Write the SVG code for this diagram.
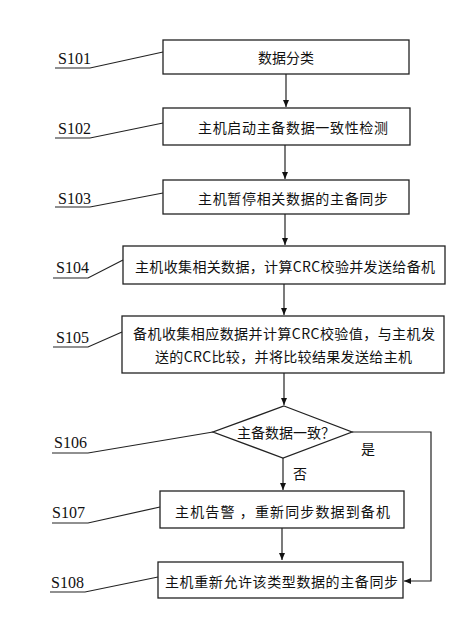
<svg xmlns="http://www.w3.org/2000/svg" width="474" height="624" viewBox="0 0 474 624">
<style>
.box{fill:#fff;stroke:#222;stroke-width:1.3}
.t{font-family:"Noto Sans CJK SC","Noto Sans",sans-serif;font-size:14px;fill:#111;dominant-baseline:central}
.lab{font-family:"Liberation Serif",serif;font-size:16px;fill:#111}
.ln{fill:none;stroke:#222;stroke-width:1.2}
</style>
<defs>
<marker id="ah" markerWidth="8" markerHeight="8" refX="7" refY="4" orient="auto" markerUnits="userSpaceOnUse">
<path d="M0,1 L7,4 L0,7 Z" fill="#111"/>
</marker>
</defs>
<rect width="474" height="624" fill="#fff"/>
<g id="connectors">
<line class="ln" x1="286" y1="74" x2="286" y2="107" marker-end="url(#ah)"/>
<line class="ln" x1="285" y1="145" x2="285" y2="179" marker-end="url(#ah)"/>
<line class="ln" x1="285" y1="214" x2="285" y2="245" marker-end="url(#ah)"/>
<line class="ln" x1="284" y1="284" x2="284" y2="315" marker-end="url(#ah)"/>
<line class="ln" x1="284" y1="373" x2="284" y2="405" marker-end="url(#ah)"/>
<line class="ln" x1="283" y1="458" x2="283" y2="490" marker-end="url(#ah)"/>
<line class="ln" x1="282" y1="528" x2="282" y2="560" marker-end="url(#ah)"/>
<polyline class="ln" points="352,432 431,432 431,581 404,581" marker-end="url(#ah)"/>
<text class="t" x="368" y="448" text-anchor="middle">是</text>
<text class="t" x="300" y="473" text-anchor="middle">否</text>
</g>
<g id="S101">
<rect class="box" x="163" y="40" width="246" height="34"/>
<text class="t" x="286" y="57" text-anchor="middle">数据分类</text>
<text class="lab" x="58" y="64">S101</text>
<polyline class="ln" points="55,68 90,68 163,52"/>
</g>
<g id="S102">
<rect class="box" x="163" y="108" width="247" height="37"/>
<text class="t" x="198" y="127" textLength="190" lengthAdjust="spacing">主机启动主备数据一致性检测</text>
<text class="lab" x="58" y="134">S102</text>
<polyline class="ln" points="55,138 90,138 163,123"/>
</g>
<g id="S103">
<rect class="box" x="163" y="180" width="246" height="34"/>
<text class="t" x="198" y="198" textLength="190" lengthAdjust="spacing">主机暂停相关数据的主备同步</text>
<text class="lab" x="58" y="204">S103</text>
<polyline class="ln" points="55,207 90,207 163,193"/>
</g>
<g id="S104">
<rect class="box" x="123" y="246" width="322" height="38"/>
<text class="t" x="135" y="266" textLength="300" lengthAdjust="spacing">主机收集相关数据，计算CRC校验并发送给备机</text>
<text class="lab" x="56" y="273">S104</text>
<polyline class="ln" points="53,278 88,278 123,260"/>
</g>
<g id="S105">
<rect class="box" x="122" y="316" width="322" height="57"/>
<text class="t" x="133" y="333" textLength="302" lengthAdjust="spacing">备机收集相应数据并计算CRC校验值，与主机发</text>
<text class="t" x="155" y="356" textLength="257" lengthAdjust="spacing">送的CRC比较，并将比较结果发送给主机</text>
<text class="lab" x="56" y="343">S105</text>
<polyline class="ln" points="53,347 88,347 122,332"/>
</g>
<g id="S106">
<polygon class="box" points="284,406 352,432 283,458 213,432"/>
<text class="t" x="237" y="432" textLength="98" lengthAdjust="spacing">主备数据一致？</text>
<text class="lab" x="54" y="448">S106</text>
<polyline class="ln" points="52,453 88,453 213,432"/>
</g>
<g id="S107">
<rect class="box" x="160" y="491" width="244" height="37"/>
<text class="t" x="175" y="511" textLength="215" lengthAdjust="spacing">主机告警 ，重新同步数据到备机</text>
<text class="lab" x="52" y="518">S107</text>
<polyline class="ln" points="52,523 88,523 160,507"/>
</g>
<g id="S108">
<rect class="box" x="158" y="562" width="245" height="36"/>
<text class="t" x="165" y="581" textLength="233" lengthAdjust="spacing">主机重新允许该类型数据的主备同步</text>
<text class="lab" x="51" y="588">S108</text>
<polyline class="ln" points="50,592 85,592 158,577"/>
</g>
</svg>
